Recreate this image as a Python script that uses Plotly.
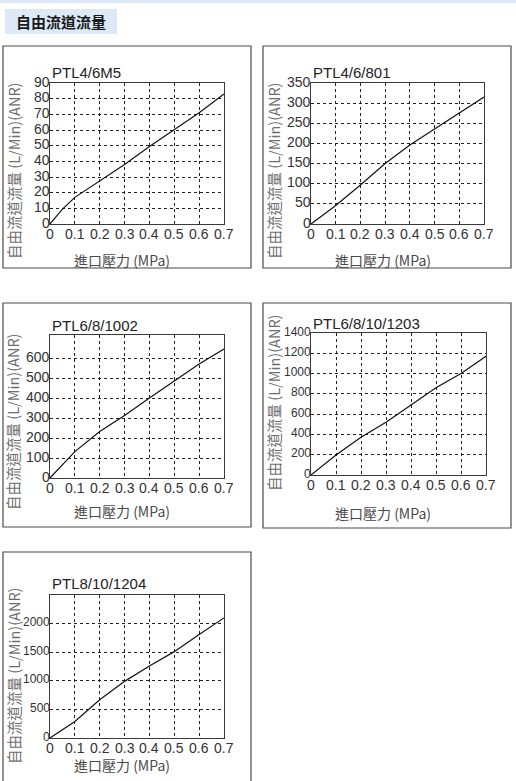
import plotly.graph_objects as go

W, H = 516, 781

# ---- data ----
models = ["PTL4/6M5", "PTL4/6/801", "PTL6/8/1002", "PTL6/8/10/1203", "PTL8/10/1204"]
pressure_1 = [0, 0.05, 0.1, 0.2, 0.3, 0.4, 0.5, 0.6, 0.7]
flow_1 = [0, 9.5, 17, 27.5, 38, 49.5, 60, 71, 83]
pressure_2 = [0, 0.1, 0.2, 0.3, 0.4, 0.5, 0.6, 0.7]
flow_2 = [0, 46, 97, 150, 196, 235, 275, 315]
pressure_3 = [0, 0.1, 0.2, 0.3, 0.4, 0.5, 0.6, 0.7]
flow_3 = [0, 132, 232, 312, 400, 485, 570, 645]
pressure_4 = [0, 0.1, 0.2, 0.3, 0.4, 0.5, 0.6, 0.7]
flow_4 = [0, 198, 372, 520, 690, 860, 1000, 1170]
pressure_5 = [0, 0.1, 0.2, 0.3, 0.4, 0.5, 0.6, 0.7]
flow_5 = [0, 290, 670, 990, 1260, 1510, 1810, 2100]

x_ticks = [0, 0.1, 0.2, 0.3, 0.4, 0.5, 0.6, 0.7]
x_ticktext = ["0", "0.1", "0.2", "0.3", "0.4", "0.5", "0.6", "0.7"]
y_ticks_1 = [0, 10, 20, 30, 40, 50, 60, 70, 80, 90]
y_ticks_2 = [0, 50, 100, 150, 200, 250, 300, 350]
y_ticks_3 = [0, 100, 200, 300, 400, 500, 600]
y_ticks_4 = [0, 200, 400, 600, 800, 1000, 1200, 1400]
y_ticks_5 = [0, 500, 1000, 1500, 2000]
y_max = [90, 350, 715, 1400, 2500]

header_title = "自由流道流量"
y_title = "自由流道流量 (L/Min)(ANR)"
x_title = "進口壓力 (MPa)"

pressures = [pressure_1, pressure_2, pressure_3, pressure_4, pressure_5]
flows = [flow_1, flow_2, flow_3, flow_4, flow_5]
y_ticks = [y_ticks_1, y_ticks_2, y_ticks_3, y_ticks_4, y_ticks_5]

# ---- layout geometry (pixels) ----
panels = [
    dict(box=(3, 46, 251, 268), plot=(50, 83, 224, 224), title_y=73, ytitle=(13, 171), xtitle=(122, 260), ytick_size=14),
    dict(box=(263, 46, 511, 268), plot=(311, 83, 484, 224), title_y=73, ytitle=(273, 171), xtitle=(383, 260), ytick_size=14),
    dict(box=(3, 303, 251, 527), plot=(50, 335, 224, 478), title_y=325, ytitle=(13, 422), xtitle=(122, 511), ytick_size=14),
    dict(box=(263, 303, 511, 528), plot=(311, 333, 486, 475), title_y=323, ytitle=(273, 403), xtitle=(383, 513), ytick_size=12),
    dict(box=(3, 552, 251, 820), plot=(50, 595, 224, 738), title_y=583, ytitle=(13, 676), xtitle=(122, 765), ytick_size=12),
]

def px(x):
    return x / W

def py(y):
    return 1 - y / H

fig = go.Figure()
shapes = []
annotations = []

TICKFONT = "Liberation Sans, Arial, sans-serif"
CJK = "Noto Sans CJK TC, Noto Sans CJK JP, Liberation Sans, sans-serif"

for i, p in enumerate(panels):
    n = i + 1
    xa = "x" if n == 1 else f"x{n}"
    ya = "y" if n == 1 else f"y{n}"
    x0, y0, x1, y1 = p["plot"]
    fig.add_trace(go.Scatter(
        x=pressures[i], y=flows[i], mode="lines",
        line=dict(color="#111111", width=1.2),
        xaxis=xa, yaxis=ya, showlegend=False, hoverinfo="skip",
    ))
    axis_common = dict(
        showline=True, linecolor="#3a3a3a", linewidth=1.4, mirror=True,
        showgrid=True, gridcolor="#222222", griddash="dot", gridwidth=1,
        zeroline=False, ticks="", fixedrange=True, showticklabels=False,
    )
    fig.layout[("xaxis" if n == 1 else f"xaxis{n}")] = dict(
        domain=[px(x0), px(x1)], anchor=ya, range=[0, 0.7],
        tickvals=x_ticks, **axis_common,
    )
    fig.layout[("yaxis" if n == 1 else f"yaxis{n}")] = dict(
        domain=[py(y1), py(y0)], anchor=xa, range=[0, y_max[i]],
        tickvals=y_ticks[i], **axis_common,
    )
    # tick labels placed through the axes' own data scales
    for v, t in zip(x_ticks, x_ticktext):
        annotations.append(dict(text=t, xref=xa, x=v, yref="paper", y=py(y1 + 10),
                                xanchor="center", yanchor="middle", showarrow=False, borderpad=0,
                                font=dict(family=TICKFONT, size=14, color="#333333")))
    for v in y_ticks[i]:
        annotations.append(dict(text=str(v), xref="paper", x=px(x0 + 1), yref=ya, y=v,
                                xanchor="right", yanchor="middle", showarrow=False, borderpad=0,
                                yshift=1.5,
                                font=dict(family=TICKFONT, size=p["ytick_size"], color="#333333")))
    bx0, by0, bx1, by1 = p["box"]
    shapes.append(dict(type="rect", xref="paper", yref="paper",
                       x0=px(bx0), x1=px(bx1), y0=py(by1), y1=py(by0),
                       line=dict(color="#4a4a4a", width=1.2), fillcolor="rgba(0,0,0,0)",
                       layer="below"))
    annotations.append(dict(text=models[i], xref="paper", yref="paper",
                            x=px(x0), y=py(p["title_y"]), xanchor="left", yanchor="middle",
                            showarrow=False, font=dict(family=TICKFONT, size=15, color="#222222")))
    annotations.append(dict(text=y_title, xref="paper", yref="paper",
                            x=px(p["ytitle"][0]), y=py(p["ytitle"][1]), xanchor="center", yanchor="middle",
                            textangle=-90, showarrow=False,
                            font=dict(family=CJK, size=14.5, color="#6e6e6e")))
    annotations.append(dict(text=x_title, xref="paper", yref="paper",
                            x=px(p["xtitle"][0]), y=py(p["xtitle"][1]), xanchor="center", yanchor="middle",
                            showarrow=False, font=dict(family=CJK, size=14, color="#4a4a4a")))

# header band and title box
shapes.append(dict(type="rect", xref="paper", yref="paper", x0=0, x1=1, y0=py(3), y1=py(0),
                   line=dict(width=0), fillcolor="#dbe8f5", layer="below"))
shapes.append(dict(type="rect", xref="paper", yref="paper", x0=px(5), x1=px(117), y0=py(34), y1=py(9),
                   line=dict(width=0), fillcolor="#dce9f6", layer="below"))
annotations.append(dict(text="<b>" + header_title + "</b>", xref="paper", yref="paper",
                        x=px(61), y=py(22), xanchor="center", yanchor="middle", showarrow=False,
                        font=dict(family=CJK, size=15, color="#1a1a1a")))

fig.update_layout(
    width=W, height=H, margin=dict(l=0, r=0, t=0, b=0),
    paper_bgcolor="white", plot_bgcolor="white",
    shapes=shapes, annotations=annotations, showlegend=False,
)

fig.write_html("out.html", config={"displayModeBar": False})
